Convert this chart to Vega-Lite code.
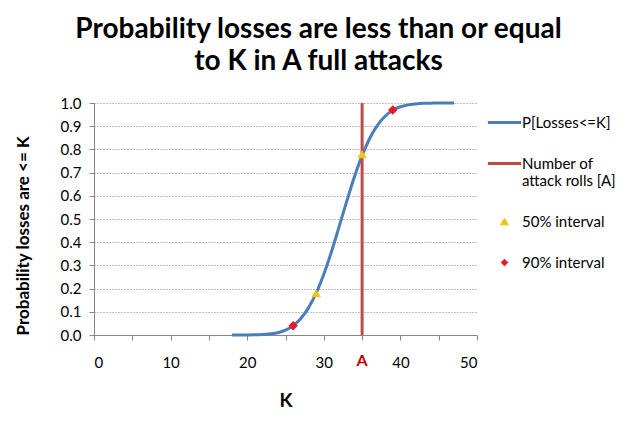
{
  "$schema": "https://vega.github.io/schema/vega-lite/v6.json",
  "width": 383,
  "height": 232,
  "autosize": "none",
  "padding": {"left": 94, "top": 103, "right": 160, "bottom": 87},
  "background": "white",
  "config": {
    "font": "Lato",
    "view": {"stroke": null},
    "axis": {"labelFont": "Lato", "titleFont": "Lato", "labelColor": "#000", "titleColor": "#000", "domainColor": "#868686", "tickColor": "#868686"},
    "axisX": {"grid": false, "gridOpacity": 0}
  },
  "title": {
    "text": ["Probability losses are less than or equal", "to K in A full attacks"],
    "fontSize": 28,
    "fontWeight": "bold",
    "font": "Lato",
    "lineHeight": 32,
    "anchor": "middle",
    "dx": 33,
    "offset": 20,
    "color": "#000"
  },
  "datasets": {
    "curve": [
      {"K": 18, "P": 0.0000, "series": "P[Losses<=K]"},
      {"K": 19, "P": 0.0001, "series": "P[Losses<=K]"},
      {"K": 20, "P": 0.0003, "series": "P[Losses<=K]"},
      {"K": 21, "P": 0.0008, "series": "P[Losses<=K]"},
      {"K": 22, "P": 0.002, "series": "P[Losses<=K]"},
      {"K": 23, "P": 0.005, "series": "P[Losses<=K]"},
      {"K": 24, "P": 0.010, "series": "P[Losses<=K]"},
      {"K": 25, "P": 0.021, "series": "P[Losses<=K]"},
      {"K": 26, "P": 0.040, "series": "P[Losses<=K]"},
      {"K": 27, "P": 0.071, "series": "P[Losses<=K]"},
      {"K": 28, "P": 0.117, "series": "P[Losses<=K]"},
      {"K": 29, "P": 0.180, "series": "P[Losses<=K]"},
      {"K": 30, "P": 0.262, "series": "P[Losses<=K]"},
      {"K": 31, "P": 0.359, "series": "P[Losses<=K]"},
      {"K": 32, "P": 0.467, "series": "P[Losses<=K]"},
      {"K": 33, "P": 0.577, "series": "P[Losses<=K]"},
      {"K": 34, "P": 0.682, "series": "P[Losses<=K]"},
      {"K": 35, "P": 0.773, "series": "P[Losses<=K]"},
      {"K": 36, "P": 0.848, "series": "P[Losses<=K]"},
      {"K": 37, "P": 0.904, "series": "P[Losses<=K]"},
      {"K": 38, "P": 0.943, "series": "P[Losses<=K]"},
      {"K": 39, "P": 0.969, "series": "P[Losses<=K]"},
      {"K": 40, "P": 0.984, "series": "P[Losses<=K]"},
      {"K": 41, "P": 0.992, "series": "P[Losses<=K]"},
      {"K": 42, "P": 0.996, "series": "P[Losses<=K]"},
      {"K": 43, "P": 0.9985, "series": "P[Losses<=K]"},
      {"K": 44, "P": 0.9994, "series": "P[Losses<=K]"},
      {"K": 45, "P": 0.9998, "series": "P[Losses<=K]"},
      {"K": 46, "P": 0.9999, "series": "P[Losses<=K]"},
      {"K": 47, "P": 1.0, "series": "P[Losses<=K]"}
    ],
    "rule": [
      {"K": 35, "P": 0, "P2": 1, "series": "Number of attack rolls [A]"}
    ],
    "points": [
      {"K": 29, "P": 0.18, "series": "50% interval"},
      {"K": 35, "P": 0.78, "series": "50% interval"},
      {"K": 26, "P": 0.04, "series": "90% interval"},
      {"K": 39, "P": 0.97, "series": "90% interval"}
    ],
    "labelA": [
      {"K": 35, "P": 0, "text": "A"}
    ]
  },
  "encoding": {
    "x": {
      "field": "K", "type": "quantitative",
      "scale": {"domain": [0, 50], "nice": false, "zero": false},
      "axis": {
        "values": [0, 5, 10, 15, 20, 25, 30, 35, 40, 45, 50],
        "labelExpr": "datum.value % 10 == 0 ? datum.label : ''",
        "labelOverlap": false,
        "grid": false,
        "gridOpacity": 0,
        "tickSize": 5,
        "labelPadding": 15,
        "labelFontSize": 15,
        "title": "K",
        "titleFontSize": 19,
        "titleFontWeight": "bold",
        "titlePadding": 21
      }
    },
    "y": {
      "field": "P", "type": "quantitative",
      "scale": {"domain": [0, 1], "nice": false},
      "axis": {
        "values": [0, 0.1, 0.2, 0.3, 0.4, 0.5, 0.6, 0.7, 0.8, 0.9, 1.0],
        "format": ".1f",
        "labelOverlap": false,
        "grid": true,
        "gridColor": "#808080",
        "gridDash": [1, 2],
        "gridWidth": 1,
        "gridOpacity": 1,
        "tickSize": 5,
        "labelPadding": 8,
        "labelFontSize": 15,
        "title": "Probability losses are <= K",
        "titleFontSize": 17,
        "titleFontWeight": "bold",
        "titleAnchor": "start",
        "titlePadding": 28
      }
    },
    "color": {
      "field": "series", "type": "nominal",
      "scale": {
        "domain": ["P[Losses<=K]", "Number of attack rolls [A]", "50% interval", "90% interval"],
        "range": ["#4A7EBB", "#BE4B48", "#F2C314", "#E41A2A"]
      },
      "legend": {
        "title": null,
        "orient": "right",
        "offset": 8,
        "padding": 12,
        "rowPadding": 25,
        "labelFont": "Lato",
        "labelFontSize": 15,
        "labelColor": "#000",
        "labelLimit": 200,
        "labelOffset": 10,
        "labelExpr": "datum.label == 'Number of attack rolls [A]' ? ['Number of', 'attack rolls [A]'] : datum.label",
        "symbolType": "stroke",
        "symbolSize": 1100,
        "symbolStrokeWidth": 3,
        "encode": {
          "symbols": {
            "update": {
              "shape": {"signal": "datum.value == '50% interval' ? 'triangle-up' : datum.value == '90% interval' ? 'diamond' : 'stroke'"},
              "size": {"signal": "datum.value == '50% interval' ? 60 : datum.value == '90% interval' ? 45 : 1100"},
              "fill": {"signal": "datum.value == '50% interval' ? '#F2C314' : datum.value == '90% interval' ? '#E41A2A' : 'transparent'"},
              "stroke": {"signal": "datum.value == '50% interval' ? '#9BBB59' : datum.value == '90% interval' ? '#E41A2A' : datum.value == 'P[Losses<=K]' ? '#4A7EBB' : '#BE4B48'"},
              "strokeWidth": {"signal": "datum.value == '50% interval' || datum.value == '90% interval' ? 1 : 3"},
              "opacity": {"value": 1}
            }
          }
        }
      }
    }
  },
  "layer": [
    {
      "data": {"name": "curve"},
      "mark": {"type": "line", "interpolate": "monotone", "strokeWidth": 3}
    },
    {
      "data": {"name": "rule"},
      "mark": {"type": "rule", "strokeWidth": 3},
      "encoding": {
        "y2": {"field": "P2"}
      }
    },
    {
      "data": {"name": "points"},
      "mark": {"type": "point", "filled": true, "opacity": 1, "size": 90},
      "encoding": {
        "shape": {
          "field": "series", "type": "nominal",
          "scale": {
            "domain": ["P[Losses<=K]", "Number of attack rolls [A]", "50% interval", "90% interval"],
            "range": ["stroke", "stroke", "triangle-up", "diamond"]
          },
          "legend": null
        }
      }
    },
    {
      "data": {"name": "labelA"},
      "mark": {"type": "text", "dy": 26, "fontSize": 16, "fontWeight": "bold", "font": "Lato", "baseline": "middle"},
      "encoding": {
        "color": {"value": "#C00000"},
        "text": {"field": "text"}
      }
    }
  ]
}
